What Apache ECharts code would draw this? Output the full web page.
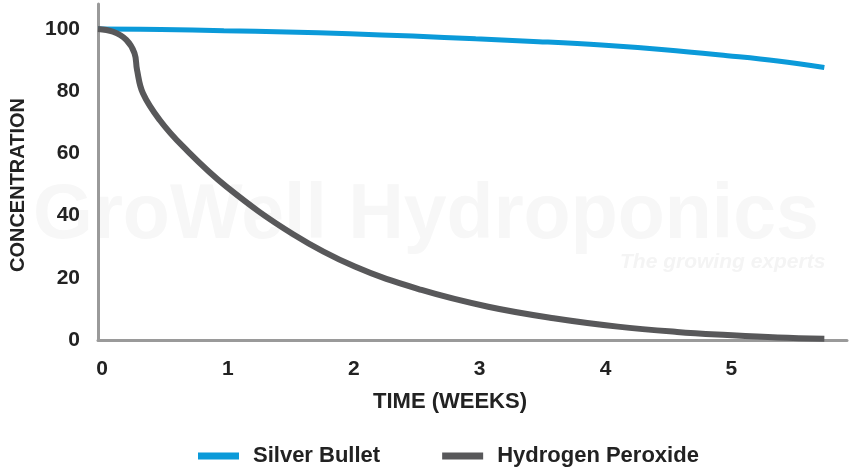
<!DOCTYPE html>
<html><head><meta charset="utf-8">
<script src="https://cdn.jsdelivr.net/npm/echarts@6/dist/echarts.min.js"></script>
<style>html,body{margin:0;padding:0;background:#fff}#c{width:850px;height:468px}</style>
</head><body><div id="c"></div>
<script>
const seriesNames = ['Silver Bullet', 'Hydrogen Peroxide'];
const silverWeeks = [0, 0.5, 1, 1.5, 2, 2.5, 3, 3.5, 4, 4.5, 5, 5.4, 5.77];
const silverValues = [100, 99.8, 99.4, 99.0, 98.4, 97.7, 96.8, 95.9, 94.8, 93.3, 91.4, 89.7, 87.6];
const peroxideWeeks = [0, 0.12, 0.225, 0.29, 0.31, 0.357, 0.49, 0.675, 1.02, 1.55, 2.04, 2.57, 3.1, 3.62, 4.13, 4.6, 5.0, 5.4, 5.77];
const peroxideValues = [100, 99.1, 96.5, 92.2, 86.8, 79.3, 70.7, 62.2, 49.3, 34.0, 23.6, 16.1, 10.7, 7.0, 4.3, 2.6, 1.6, 0.8, 0.4];
const xTicks = [0, 1, 2, 3, 4, 5];
const yTicks = [0, 20, 40, 60, 80, 100];

const pair = (xs, ys) => xs.map((x, i) => [x, ys[i]]);
const fam = '"Liberation Sans", Arial, Helvetica, sans-serif';

const chart = echarts.init(document.getElementById('c'));
chart.setOption({
  animation: false,
  backgroundColor: '#fff',
  grid: { left: 98, right: 2, top: 4, bottom: 128, containLabel: false },
  graphic: [
    { type: 'text', left: 33, top: 178, z: 0, style: { text: 'GroWell Hydroponics', fontSize: 77, fontWeight: 'bold', fontFamily: fam, fill: '#f7f7f7' } },
    { type: 'text', left: 620, top: 252, z: 0, style: { text: 'The growing experts', fontSize: 21, fontStyle: 'italic', fontWeight: 'bold', fontFamily: fam, fill: '#f4f4f4' } },
    { type: 'text', x: 18, y: 185, rotation: Math.PI / 2, style: { text: 'CONCENTRATION', fontSize: 20, fontWeight: 'bold', fontFamily: fam, fill: '#222', align: 'center', verticalAlign: 'middle' } },
    { type: 'text', x: 450, y: 402, style: { text: 'TIME (WEEKS)', fontSize: 22, fontWeight: 'bold', fontFamily: fam, fill: '#222', align: 'center', verticalAlign: 'middle' } }
  ],
  legend: {
    data: seriesNames,
    left: 193, top: 440,
    icon: 'rect', itemWidth: 41, itemHeight: 7, itemGap: 62,
    textStyle: { fontSize: 22, fontWeight: 'bold', fontFamily: fam, color: '#222', padding: [0, 0, 0, 9] }
  },
  xAxis: {
    type: 'value', min: 0, max: 5.95, interval: 1,
    axisLine: { show: true, lineStyle: { color: '#9a9a9a', width: 3 } },
    axisTick: { show: false }, splitLine: { show: false },
    axisLabel: { fontSize: 21, fontWeight: 'bold', fontFamily: fam, color: '#222', margin: 19, padding: [0, 0, 0, 8],
      formatter: v => xTicks.includes(v) ? String(v) : '' }
  },
  yAxis: {
    type: 'value', min: 0, max: 108, interval: 20,
    axisLine: { show: true, lineStyle: { color: '#9a9a9a', width: 3 } },
    axisTick: { show: false }, splitLine: { show: false },
    axisLabel: { fontSize: 21, fontWeight: 'bold', fontFamily: fam, color: '#222', margin: 18,
      formatter: v => yTicks.includes(v) ? String(v) : '' }
  },
  series: [
    { name: seriesNames[0], type: 'line', data: pair(silverWeeks, silverValues), smooth: 0.4, showSymbol: false, symbol: 'none',
      color: '#0b9ad9', lineStyle: { width: 5, color: '#0b9ad9' }, z: 3 },
    { name: seriesNames[1], type: 'line', data: pair(peroxideWeeks, peroxideValues), smooth: 0.4, showSymbol: false, symbol: 'none',
      color: '#58585a', lineStyle: { width: 6, color: '#58585a' }, z: 4 }
  ]
});
</script></body></html>
